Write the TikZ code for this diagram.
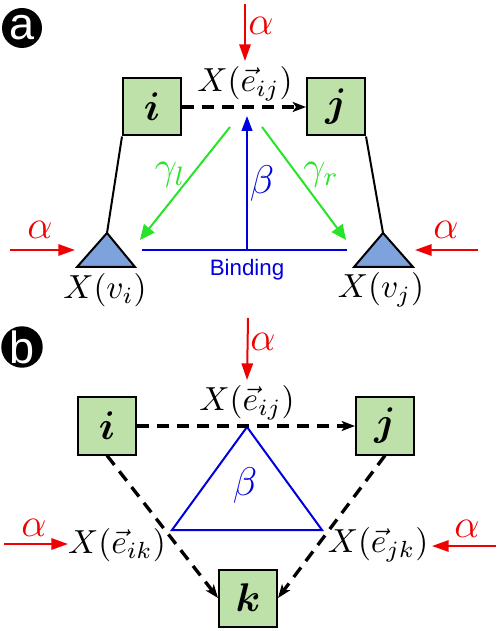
\documentclass[tikz,border=0pt]{standalone}
\usepackage{amsmath}
\usepackage{fontspec}
\newfontfamily\sansf{Liberation Sans}
\usetikzlibrary{arrows.meta}
\definecolor{boxgreen}{RGB}{189,225,168}
\definecolor{trifill}{RGB}{125,162,220}
\definecolor{lgreen}{RGB}{40,228,40}
\definecolor{dblue}{RGB}{0,0,220}
\definecolor{ared}{RGB}{240,0,0}
\begin{document}
\begin{tikzpicture}[x=0.3pt,y=-0.3pt,
  sq/.style={draw=black, line width=0.6pt, fill=boxgreen, minimum width=17.4pt, minimum height=17.1pt, inner sep=0pt, font=\fontsize{12}{14}\selectfont},
  lbl/.style={inner sep=1.5pt},
  dsh/.style={line width=1pt, dash pattern=on 3.6pt off 2.4pt, -{Stealth[length=4pt,width=3pt,inset=1pt]}},
  redarr/.style={ared, line width=0.6pt, -{Triangle[length=5pt,width=3.4pt]}},
  greenarr/.style={lgreen, line width=0.6pt, -{Triangle[length=4.5pt,width=4pt]}},
  bluearr/.style={dblue, line width=0.6pt, -{Triangle[length=4.5pt,width=3.2pt]}},
  greek/.style={inner sep=0pt, font=\fontsize{11.5}{13}\selectfont},
  redlbl/.style={greek, text=ared},
  tri/.style={draw=black, line width=0.6pt, fill=trifill},
  badge/.style={circle, fill=black, minimum size=12pt, inner sep=0pt, text=white, font=\sansf\fontsize{13.5}{13.5}\selectfont}]
\useasboundingbox (0,0) rectangle (498,631);

% ---------------- panel a ----------------
\node[badge] (ba) at (22,28) {a};

\node[sq] (ai) at (152,107) {$\boldsymbol{i}$};
\node[sq] (aj) at (336,107) {$\boldsymbol{j}$};
\node[lbl] (aeij) at (245,84) {$X(\vec{e}_{ij})$};

\draw[dsh] (ai.east) -- (aj.west);

% top alpha
\coordinate (aat) at (245,4);
\draw[redarr] (aat) -- (aeij.north);
\node[redlbl] (aalpha) at (261,26) {$\alpha$};

% triangles
\coordinate (tia) at (107,233);
\coordinate (tib1) at (77,267);
\coordinate (tib2) at (135,267);
\draw[tri] (tia) -- (tib1) -- (tib2) -- cycle;
\coordinate (tja) at (383,233);
\coordinate (tjb1) at (354,267);
\coordinate (tjb2) at (413,267);
\draw[tri] (tja) -- (tjb1) -- (tjb2) -- cycle;

\draw[line width=0.6pt] (ai.south west) -- (tia);
\draw[line width=0.6pt] (aj.south east) -- (tja);

\node[lbl] (xvi) at (105,290) {$X(v_i)$};
\node[lbl] (xvj) at (381,290) {$X(v_j)$};

% side alphas
\coordinate (alS) at (10,250);
\coordinate (alE) at (75,250);
\draw[redarr] (alS) -- (alE);
\node[redlbl] (alA) at (40,230) {$\alpha$};
\coordinate (arS) at (478,250);
\coordinate (arE) at (415,250);
\draw[redarr] (arS) -- (arE);
\node[redlbl] (arA) at (446,230) {$\alpha$};

% binding
\coordinate (bl) at (142,250);
\coordinate (br) at (347,250);
\coordinate (bm) at (247,250);
\coordinate (bt) at (247,116);
\draw[dblue, line width=0.6pt] (bl) -- (br);
\draw[bluearr] (bm) -- (bt);
\node[text=dblue, inner sep=0pt, font=\sansf\fontsize{6.7}{8}\selectfont] (bind) at (247,270) {Binding};
\node[greek, text=dblue] (abeta) at (262,184) {$\beta$};

% gammas
\coordinate (glS) at (230,127);
\coordinate (glE) at (140,240);
\coordinate (grS) at (262,127);
\coordinate (grE) at (346,240);
\draw[greenarr] (glS) -- (glE);
\draw[greenarr] (grS) -- (grE);
\node[greek, text=lgreen] (gl) at (170,175) {$\gamma_l$};
\node[greek, text=lgreen] (gr) at (321,175) {$\gamma_r$};

% ---------------- panel b ----------------
\node[badge] (bb) at (22,347) {b};

\node[sq] (bi) at (107,426) {$\boldsymbol{i}$};
\node[sq] (bj) at (385,426) {$\boldsymbol{j}$};
\node[sq] (bk) at (248,598) {$\boldsymbol{k}$};
\node[lbl] (beij) at (247,403) {$X(\vec{e}_{ij})$};

\coordinate (bat) at (248,318);
\draw[redarr] (bat) -- (beij.north);
\node[redlbl] (balpha) at (263,342) {$\alpha$};

% blue triangle
\coordinate (bta) at (247,427);
\coordinate (btb1) at (172,530);
\coordinate (btb2) at (322,530);
\draw[dblue, line width=0.6pt] (bta) -- (btb1) -- (btb2) -- cycle;
\node[greek, text=dblue] (bbeta) at (245,485) {$\beta$};

\draw[dsh] (bi.east) -- (bj.west);
\draw[dsh] (bi.south) -- (bk.west);
\draw[dsh] (bj.south) -- (bk.east);

\node[lbl] (xeik) at (117,545) {$X(\vec{e}_{ik})$};
\node[lbl] (xejk) at (378,545) {$X(\vec{e}_{jk})$};

\coordinate (blS) at (4,544);
\coordinate (blE) at (68,544);
\draw[redarr] (blS) -- (blE);
\node[redlbl] (blA) at (34,528) {$\alpha$};
\coordinate (brS) at (496,546);
\coordinate (brE) at (432,546);
\draw[redarr] (brS) -- (brE);
\node[redlbl] (brA) at (467,529) {$\alpha$};
\end{tikzpicture}
\end{document}
